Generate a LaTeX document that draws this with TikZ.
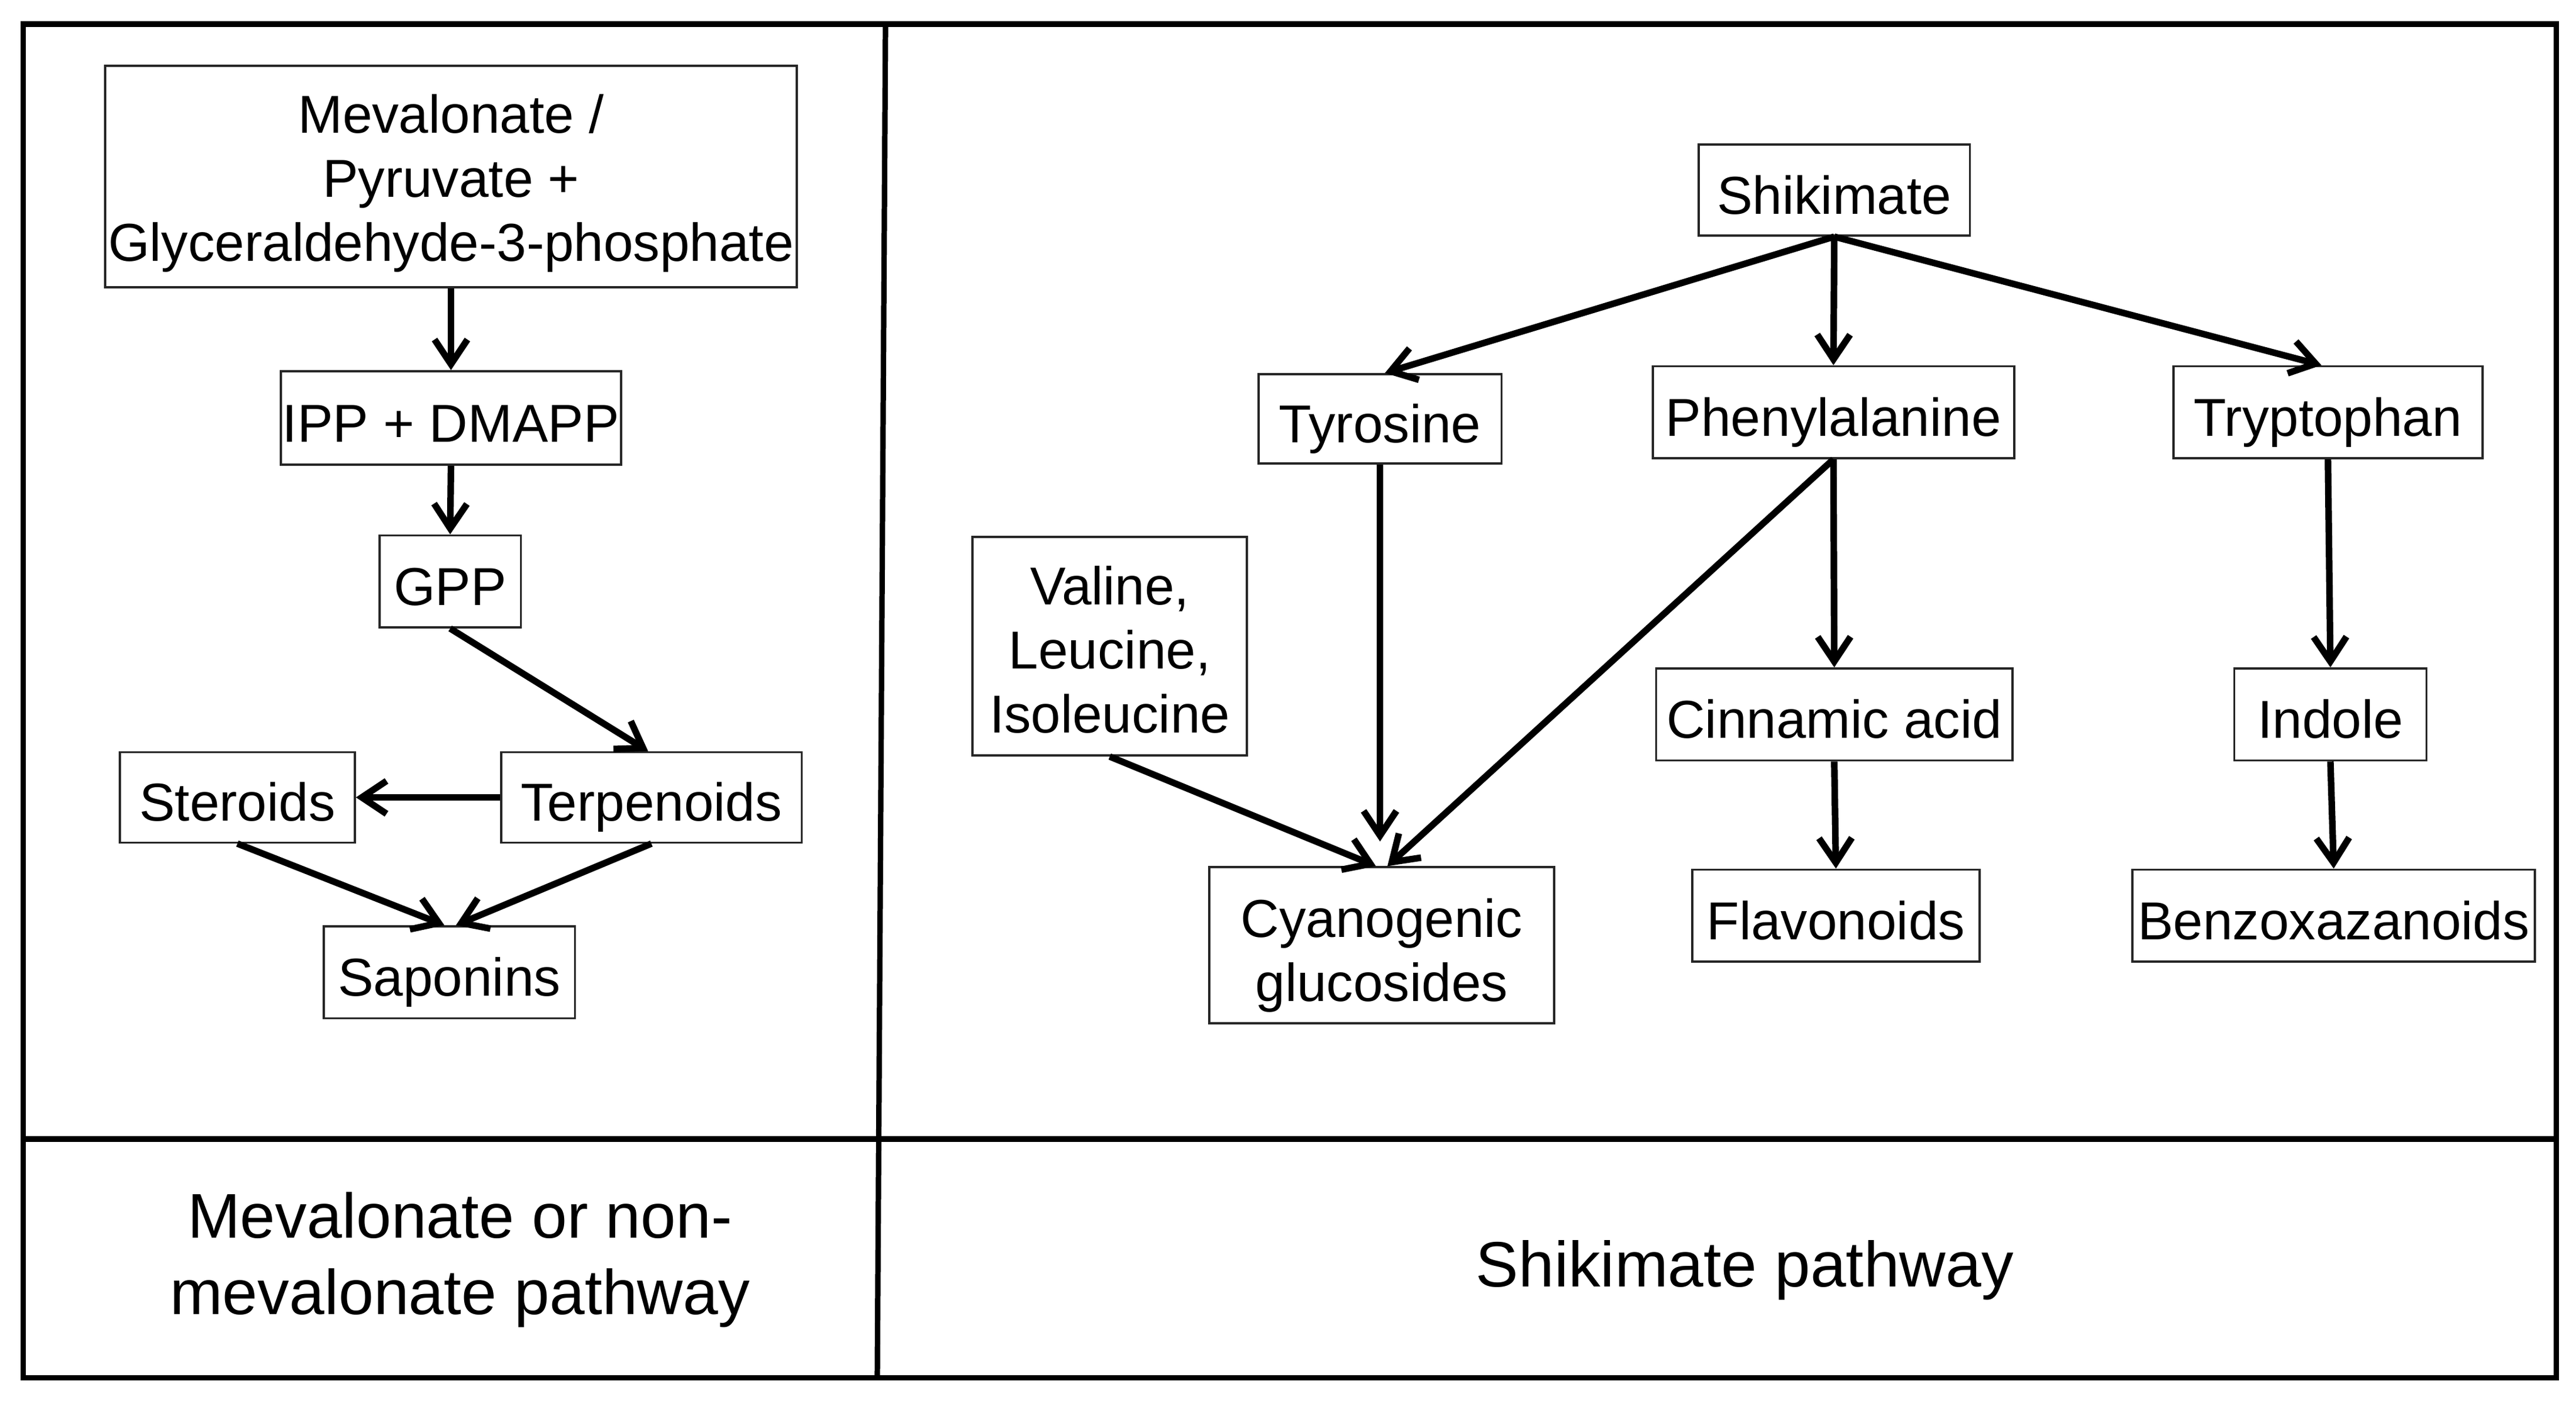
\documentclass[tikz,border=0pt]{standalone}
\usepackage{fontspec}
\setmainfont{Liberation Sans}
\usetikzlibrary{arrows.meta}
\begin{document}
\begin{tikzpicture}[x=1pt,y=-1pt,
  boxbase/.style={draw=black!85, line width=1.3pt, inner sep=0pt, align=center,
    font=\fontsize{32.5}{39}\selectfont},
  box/.style={boxbase,
    execute at begin node={\rule{0pt}{36pt}},
    execute at end node={\rule[-7pt]{0pt}{7pt}}},
  mbox/.style={boxbase},
  sz/.style 2 args={minimum width=#1pt, minimum height=#2pt},
  arr/.style={line width=4pt, -{Straight Barb[length=15pt,width=20pt]}},
  frame/.style={line width=3.3pt},
  lbl/.style={inner sep=0pt, align=center, font=\fontsize{38.5}{46.5}\selectfont}
]
\useasboundingbox (0,0) rectangle (1568,853);
\fill[white] (0,0) rectangle (1568,853);

% frame
\draw[frame] (14,14.7) rectangle (1556,839);
\draw[frame] (539,14.7) -- (534,839);
\draw[frame] (14,693.5) -- (1556,693.5);

% left panel
\node[mbox, sz={421}{135}] (mev) at (274.5,107.5) {\rule{0pt}{32pt}Mevalonate /\\Pyruvate +\\Glyceraldehyde-3-phosphate};
\node[box, sz={207}{57}] (ipp) at (274.5,254.5) {IPP + DMAPP};
\node[box, sz={86}{56}] (gpp) at (274,354) {GPP};
\node[box, sz={143}{55}] (ster) at (144.5,485.5) {Steroids};
\node[box, sz={183}{55}] (terp) at (396.5,485.5) {Terpenoids};
\node[box, sz={153}{56}] (sap) at (273.5,592) {Saponins};

% right panel
\node[box, sz={165}{55.5}] (shik) at (1116.5,115.7) {Shikimate};
\node[box, sz={148}{54.5}] (tyr) at (840,255) {Tyrosine};
\node[box, sz={220}{56}] (phe) at (1116,251) {Phenylalanine};
\node[box, sz={188}{56}] (trp) at (1417,251) {Tryptophan};
\node[mbox, sz={167}{133}] (val) at (675.5,393.5) {\rule{0pt}{28pt}Valine,\\Leucine,\\Isoleucine};
\node[box, sz={217}{56}] (cin) at (1116.5,435) {Cinnamic acid};
\node[box, sz={117}{56}] (ind) at (1418.5,435) {Indole};
\node[mbox, sz={210}{95}] (cya) at (841,575.5) {\rule{0pt}{36pt}Cyanogenic\\glucosides};
\node[box, sz={175}{56}] (fla) at (1117.5,557.5) {Flavonoids};
\node[box, sz={245}{56}] (ben) at (1420.5,557.5) {Benzoxazanoids};

% labels
\node[lbl] (lmev) at (280,760.5) {\rule{0pt}{41pt}Mevalonate or non-\\mevalonate pathway};
\node[lbl, anchor=base, font=\fontsize{39}{46}\selectfont] (lshik) at (1062,783.6) {Shikimate pathway};

% arrows left
\draw[arr] (mev.south) -- (ipp.north);
\draw[arr] (ipp.south) -- (gpp.north);
\draw[arr] (gpp.south) -- ([xshift=-2pt]terp.north);
\draw[arr] (terp.west) -- (ster.east);
\draw[arr] (ster.south) -- ([xshift=-3pt]sap.north);
\draw[arr] (terp.south) -- ([xshift=4pt]sap.north);

% arrows right
\draw[arr] (shik.south) -- ([xshift=3pt]tyr.north);
\draw[arr] (shik.south) -- (phe.north);
\draw[arr] (shik.south) -- ([xshift=-4pt]trp.north);
\draw[arr, shorten >=15pt] (tyr.south) -- (tyr.south |- cya.north);
\draw[arr] (val.south) -- ([xshift=-3.5pt]cya.north);
\draw[arr] (phe.south) -- ([xshift=3.5pt]cya.north);
\draw[arr] (phe.south) -- (cin.north);
\draw[arr] (cin.south) -- (fla.north);
\draw[arr] (trp.south) -- (ind.north);
\draw[arr] (ind.south) -- (ben.north);
\end{tikzpicture}
\end{document}
